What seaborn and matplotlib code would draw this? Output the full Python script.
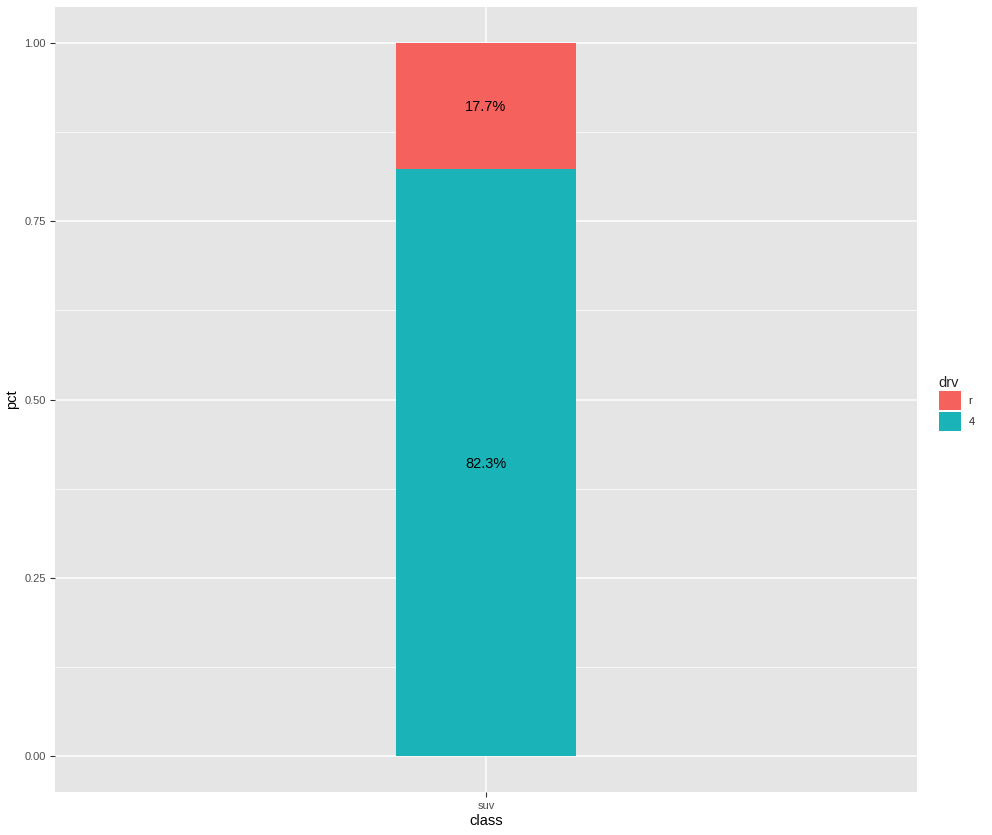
import matplotlib
matplotlib.use("Agg")
import matplotlib.pyplot as plt
import matplotlib.patches as mpatches
from matplotlib.ticker import MultipleLocator
import numpy as np
import pandas as pd
import seaborn as sns

# data
car_class = ["suv"]
drv = ["r", "4"]
pct = [0.177, 0.823]
colors = {"r": "#F5615C", "4": "#1AB3B8"}

sns.set_theme(style="darkgrid")
plt.rcParams["font.family"] = ["Liberation Sans", "DejaVu Sans"]

fig = plt.figure(figsize=(9.92, 8.35), dpi=100)
ax = fig.add_axes([0.0554, 0.0515, 0.869, 0.940])
ax.set_facecolor("#E5E5E5")

# stacked: r on top of 4 -> draw full height first, then 4 over it
total = pd.DataFrame({"class": car_class, "pct": [sum(pct)]})
lower = pd.DataFrame({"class": car_class, "pct": [pct[1]]})
sns.barplot(data=total, x="class", y="pct", color=colors["r"], width=0.25,
            saturation=1, linewidth=0, ax=ax, zorder=3)
sns.barplot(data=lower, x="class", y="pct", color=colors["4"], width=0.25,
            saturation=1, linewidth=0, ax=ax, zorder=3)

# segment labels
ax.text(0, pct[1] / 2, f"{pct[1]*100:.1f}%", ha="center", va="center_baseline",
        fontsize=10.5, color="black", zorder=4)
ax.text(0, pct[1] + pct[0] / 2, f"{pct[0]*100:.1f}%", ha="center", va="center_baseline",
        fontsize=10.5, color="black", zorder=4)

ax.set_xlim(-0.6, 0.6)
ax.set_ylim(-0.05, 1.05)
ax.yaxis.set_major_locator(MultipleLocator(0.25))
ax.yaxis.set_minor_locator(MultipleLocator(0.125))
ax.set_yticks([0, 0.25, 0.5, 0.75, 1.0])
ax.set_yticklabels(["0.00", "0.25", "0.50", "0.75", "1.00"])
ax.grid(which="major", color="white", linewidth=1.1, zorder=0)
ax.grid(which="minor", axis="y", color="white", linewidth=0.55, zorder=0)
ax.set_axisbelow(True)
for s in ax.spines.values():
    s.set_visible(False)

ax.tick_params(axis="both", which="major", length=3.5, width=0.8, color="#333333",
               labelsize=8, labelcolor="#4D4D4D", pad=3, left=True, bottom=True)
ax.tick_params(axis="y", which="minor", length=0)
ax.set_xlabel("class", fontsize=10.5, color="black", labelpad=2)
ax.set_ylabel("pct", fontsize=10.5, color="black", labelpad=4)

handles = [mpatches.Patch(color=colors[d], label=d, linewidth=0) for d in drv]
leg = ax.legend(handles=handles, title="drv", loc="center left",
                bbox_to_anchor=(1.02, 0.495), frameon=False, fontsize=8,
                title_fontsize=10.5, handlelength=2.0, handleheight=2.3,
                handletextpad=0.7, labelspacing=0.1, borderaxespad=0)
leg._legend_box.align = "left"

fig.savefig("out.png", dpi=100)
